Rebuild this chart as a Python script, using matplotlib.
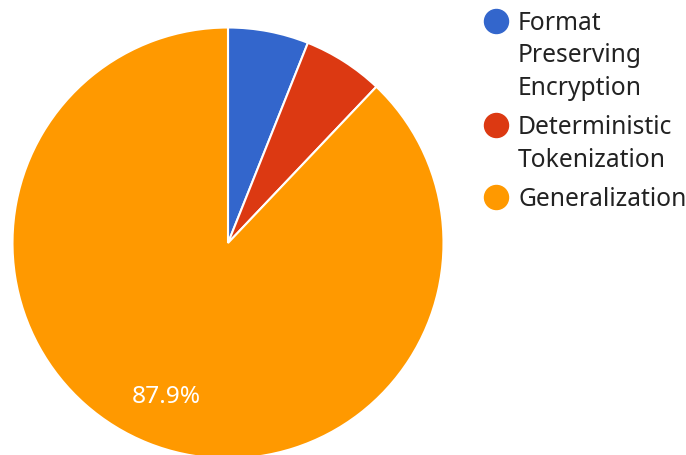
import textwrap
import matplotlib
matplotlib.use("Agg")
import matplotlib.pyplot as plt

categories = ["Format Preserving Encryption", "Deterministic Tokenization", "Generalization"]
values = [11, 11, 160]
colors = ["#3366CC", "#DC3912", "#FF9900"]

W, H = 686, 455
fig = plt.figure(figsize=(W / 100, H / 100), dpi=100)
plt.rcParams['font.family'] = ['Noto Sans', 'DejaVu Sans']

cx, cy, r = 228, 243, 215.5
ax = fig.add_axes([(cx - r) / W, (H - cy - r) / H, 2 * r / W, 2 * r / H])
wedges, texts, autotexts = ax.pie(
    values, colors=colors, startangle=90, counterclock=False,
    autopct=lambda p: f"{p:.1f}%" if p > 10 else "",
    pctdistance=0.77,
    wedgeprops=dict(edgecolor="white", linewidth=1.5),
    textprops=dict(color="white", fontsize=17.6),
)
ax.set_xlim(-1, 1)
ax.set_ylim(-1, 1)
ax.set_aspect("equal")
ax.axis("off")

# legend overlay in pixel coordinates
lax = fig.add_axes([0, 0, 1, 1], facecolor="none")
lax.set_xlim(0, W)
lax.set_ylim(H, 0)
lax.axis("off")
y = 20.5
line_h = 32.5
for cat, col in zip(categories, colors):
    lines = textwrap.wrap(cat, width=13, break_long_words=False)
    lax.plot([496], [y], marker="o", markersize=17.3, color=col, linestyle="none")
    for i, ln in enumerate(lines):
        lax.text(518, y + i * line_h, ln, fontsize=17.7, color="#222222",
                 va="center_baseline", ha="left")
    y += len(lines) * line_h + 7

fig.savefig("out.png", dpi=100)
